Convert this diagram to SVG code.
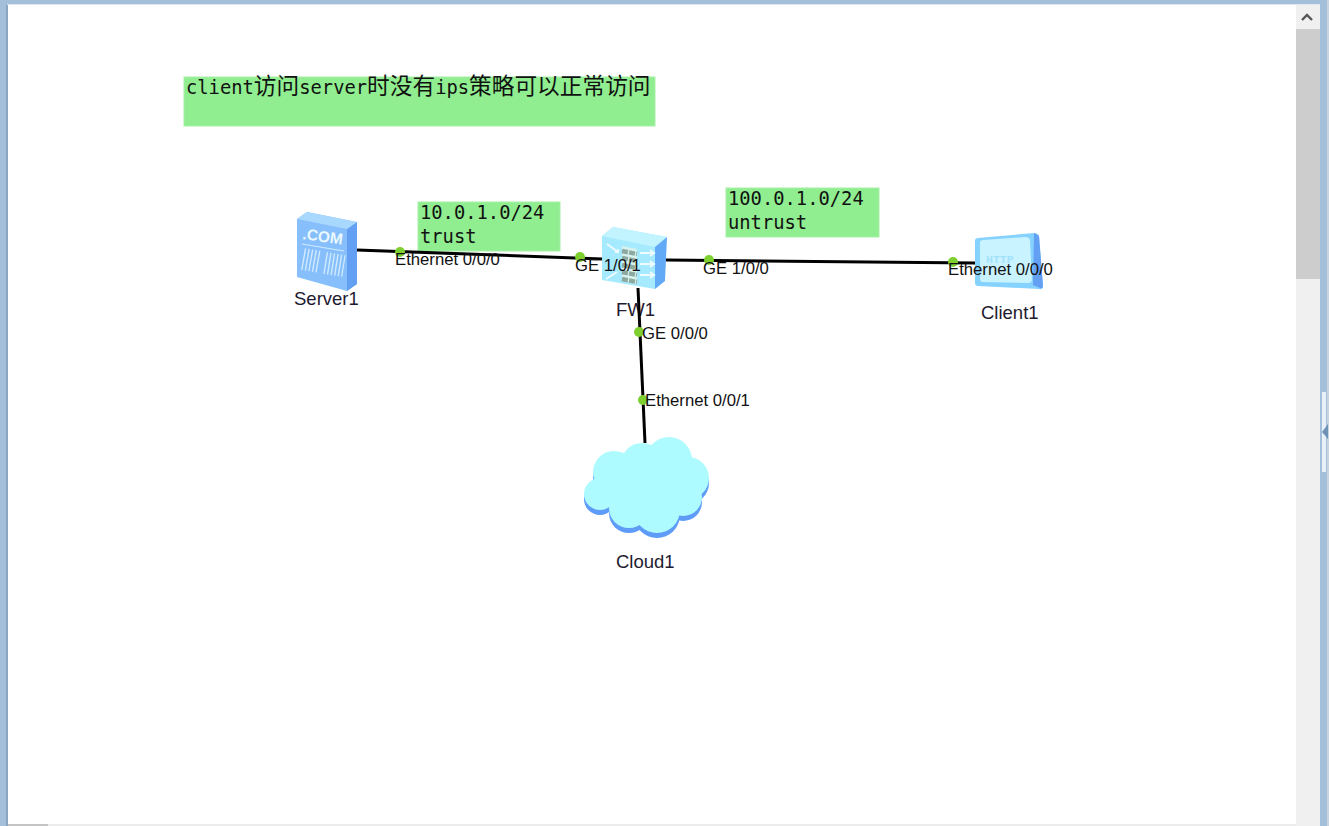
<svg xmlns="http://www.w3.org/2000/svg" width="1329" height="826" viewBox="0 0 1329 826">
<style>
.lbl{font-family:"Liberation Sans",Arial,sans-serif;font-size:18.5px;fill:#1e1a30}
.port{font-family:"Liberation Sans",Arial,sans-serif;font-size:16.7px;fill:#111}
.note{font-family:"DejaVu Sans Mono","Noto Sans CJK SC",monospace;font-size:18.8px;fill:#111}
.cjk{font-family:"Noto Sans CJK SC",sans-serif;font-size:22.7px;fill:#111}
.box{fill:#90ee90;stroke:#a5f0a5;stroke-width:1}
.link{stroke:#000;stroke-width:3;fill:none}
.dot{fill:#7ed030}
</style>
<defs>
<g id="cloud-shape">
<circle cx="614" cy="472" r="21"/><circle cx="642" cy="464" r="21"/><circle cx="669" cy="460" r="23"/><circle cx="688" cy="478" r="21"/><circle cx="600" cy="494" r="16"/><circle cx="683" cy="497" r="19"/><circle cx="629" cy="508" r="20"/><circle cx="657" cy="510" r="23"/><circle cx="645" cy="485" r="36"/>
</g>
</defs>
<rect width="1329" height="826" fill="#fff"/>
<g id="frame">
<rect x="0" y="0" width="7" height="826" fill="#a3bfd9"/>
<rect x="6" y="0" width="2" height="826" fill="#8aa5bf"/>
<rect x="0" y="0" width="1329" height="4" fill="#a3bfd9"/>
<rect x="7" y="4" width="1315" height="1" fill="#dfe6ee"/>
<rect x="1296" y="5" width="24" height="821" fill="#f0f0f0"/>
<rect x="1296" y="29" width="24" height="250" fill="#cdcdcd"/>
<path d="M1302 20l5-5 5 5" fill="none" stroke="#555" stroke-width="2.4"/>
<rect x="1320" y="0" width="7" height="826" fill="#a3bfd9"/>
<rect x="1327" y="0" width="2" height="826" fill="#c8d4df"/>
<rect x="1322" y="392" width="4" height="80" fill="#e8f1f8"/>
<path d="M1328 424l-6 8 6 7z" fill="#6f93b5"/>
<rect x="8" y="824" width="1288" height="2" fill="#ececec"/>
<rect x="8" y="824" width="40" height="2" fill="#c4c4c4"/>
</g>
<g id="note-main">
<rect class="box" x="184" y="77" width="471" height="49"/>
<text class="note" x="186" y="94">client<tspan class="cjk">访问</tspan>server<tspan class="cjk">时没有</tspan>ips<tspan class="cjk">策略可以正常访问</tspan></text>
</g>
<g id="note-trust">
<rect class="box" x="418" y="202" width="142" height="49"/>
<text class="note" x="420" y="219">10.0.1.0/24</text>
<text class="note" x="420" y="243">trust</text>
</g>
<g id="note-untrust">
<rect class="box" x="726" y="188" width="153" height="49"/>
<text class="note" x="728" y="205">100.0.1.0/24</text>
<text class="note" x="728" y="229">untrust</text>
</g>
<g id="Server1">
<path d="M297 219l10-7 50 10v62l-10 7-50-14z" fill="#86bffb"/>
<path d="M347 229l10-7v62l-10 7z" fill="#639ff3"/>
<path d="M297 219l10-7 50 10-10 7z" fill="#a9d8ff"/>
<text x="302" y="239" font-family="Liberation Sans,sans-serif" font-size="15.5" font-weight="700" fill="#eaf8ff" transform="rotate(8 302 239)">.COM</text>
<path d="M302 244l42 7" fill="none" stroke="#cfeaff" stroke-width="1.2"/>
<path d="M303 259l17 3M325 263l19 3" fill="none" stroke="#cfeaff" stroke-width="22" stroke-dasharray="1.4 2.2"/>
<text class="lbl" x="294" y="305">Server1</text>
</g>
<g id="FW1">
<path d="M602 236l11-9 54 10-12 10v42l-53-9z" fill="#a6eaff"/>
<path d="M602 236l11-9 54 10-12 10z" fill="#c2f4ff"/>
<path d="M655 247l12-10-2 44-10 8z" fill="#62a9f6"/>
<path d="M622 246l15 3v35l-15-3z" fill="#d8f2ef"/>
<path d="M622 251l15 3M622 258l15 3M622 265l15 3M622 272l15 3M622 279l15 3" stroke="#8ca89f" stroke-width="4.5" stroke-dasharray="6 1.2" fill="none"/>
<path d="M607 244l11 8M615 252l3 0 0-3M606 279l11-7M640 253h13M640 264h13M640 275h13M650 250l4 3-4 3M650 261l4 3-4 3M650 272l4 3-4 3" stroke="#eefbff" stroke-width="2" fill="none"/>
<text class="lbl" x="616" y="316">FW1</text>
</g>
<g id="Client1">
<path d="M975 241q0-3 3-3l56-5q4 0 5 3l4 50q0 4-4 3l-61-3q-3 0-3-3z" fill="#86d2ff"/>
<path d="M1034 233l5 3 4 50q0 3-3 2l-7-3z" fill="#639ff3"/>
<path d="M980 243q0-3 3-3l42-3q5 0 5 4l2 38q0 4-4 4l-45-1q-3 0-3-3z" fill="#c9f3ff"/>
<text x="986" y="263" font-family="Liberation Mono,monospace" font-size="11.5" font-weight="700" fill="#a3e2fb">HTTP</text>
<text class="lbl" x="981" y="319">Client1</text>
</g>
<g id="Cloud1">
<use href="#cloud-shape" fill="#5e9cf7" y="5"/>
<use href="#cloud-shape" fill="#aefbff"/>
<text class="lbl" x="616" y="568">Cloud1</text>
</g>
<g id="connectors">
<path class="link" d="M357 250L602 259"/>
<path class="link" d="M666 260L975 263"/>
<path class="link" d="M638 288L645 443"/>
<circle class="dot" cx="400" cy="252" r="5"/>
<circle class="dot" cx="580" cy="257" r="5"/>
<circle class="dot" cx="709" cy="260" r="5"/>
<circle class="dot" cx="953" cy="262" r="5"/>
<circle class="dot" cx="639" cy="332" r="5"/>
<circle class="dot" cx="643" cy="400" r="5"/>
</g>
<g id="ports">
<text class="port" x="395" y="265">Ethernet 0/0/0</text>
<text class="port" x="575" y="271">GE 1/0/1</text>
<text class="port" x="703" y="274">GE 1/0/0</text>
<text class="port" x="948" y="275">Ethernet 0/0/0</text>
<text class="port" x="642" y="339">GE 0/0/0</text>
<text class="port" x="645" y="406">Ethernet 0/0/1</text>
</g>
</svg>
